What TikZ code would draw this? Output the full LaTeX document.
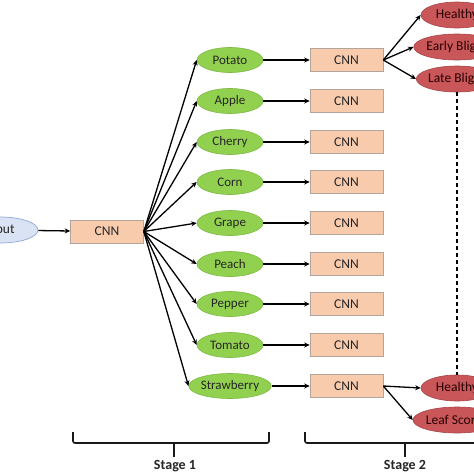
\documentclass[tikz,border=0pt]{standalone}
\usepackage{fontspec}
\setmainfont{Carlito}
\usetikzlibrary{arrows.meta,shapes.geometric}
\definecolor{inblue}{HTML}{DAE3F3}
\definecolor{inborder}{HTML}{8FAADC}
\definecolor{cnnfill}{HTML}{F8CBAD}
\definecolor{cnnborder}{HTML}{B4A59B}
\definecolor{grfill}{HTML}{92D050}
\definecolor{grborder}{HTML}{7DBA45}
\definecolor{rdfill}{HTML}{C9575A}
\definecolor{rdborder}{HTML}{A84446}
\definecolor{txt}{HTML}{262626}
\tikzset{
  inputnode/.style={ellipse,draw=inborder,fill=inblue,line width=0.7pt,minimum width=76,minimum height=26,inner sep=0pt,text=txt,font=\fontsize{13.5}{15}\selectfont},
  cnnbox/.style={rectangle,draw=cnnborder,fill=cnnfill,line width=0.6pt,minimum width=73,minimum height=23,inner sep=0pt,text=txt,font=\fontsize{13.5}{15}\selectfont},
  plant/.style={ellipse,draw=grborder,fill=grfill,line width=0.6pt,minimum width=66,minimum height=25,inner sep=0pt,text=txt,font=\fontsize{13}{15}\selectfont},
  disease/.style={ellipse,draw=rdborder,fill=rdfill,line width=0.6pt,minimum width=72,minimum height=26,inner sep=0pt,text=black!85!red,font=\fontsize{13.5}{15}\selectfont},
  arr/.style={line width=1.3pt,-{Stealth[length=5.5pt,width=5pt]}},
  brace/.style={line width=1.6pt,draw=black!90,rounded corners=2pt},
  stagelbl/.style={font=\bfseries\fontsize{14}{16}\selectfont,text=black!85},
}
\begin{document}
\begin{tikzpicture}[x=1pt,y=-1pt]
\useasboundingbox (0,0) rectangle (474,474);
\begin{scope}
\clip (0,0) rectangle (474,474);
\fill[white] (0,0) rectangle (474,474);
\node[inputnode] (in) at (0,230) {Input};
\node[cnnbox] (c0) at (107,231.5) {CNN};
\draw[arr] (in) -- (c0);
\foreach \n/\t/\y in {p1/Potato/60,p2/Apple/101,p3/Cherry/142,p4/Corn/182,p5/Grape/223,p6/Peach/264,p7/Pepper/304,p8/Tomato/345,p9/Strawberry/386}{
  \node[plant] (\n) at (230,\y) {\t};
  \node[cnnbox] (c\n) at (346.5,\y) {CNN};
  \draw[arr] (\n) -- (c\n);
  \draw[arr] (c0.east) -- (\n.west);
}
\node[disease] (d1) at (457,15) {Healthy};
\node[disease] (d2) at (457,47) {Early Blight};
\node[disease] (d3) at (457,79) {Late Blight};
\node[disease] (d4) at (457,388) {Healthy};
\node[disease] (d5) at (457,420) {Leaf Scorch};
\draw[arr] (cp1.east) -- (d1.west);
\draw[arr] (cp1.east) -- (d2.west);
\draw[arr] (cp1.east) -- (d3.west);
\draw[arr] (cp9.east) -- (d4.west);
\draw[arr] (cp9.east) -- (d5.west);
\draw[line width=1.7pt,dash pattern=on 4pt off 3pt] (d3.south) -- (d4.north);
\coordinate (b1a) at (73,432);
\coordinate (b1b) at (269,432);
\coordinate (b1m) at (174,443);
\coordinate (b1t) at (174,457);
\draw[brace] (b1a) -- (73,443) -- (269,443) -- (b1b);
\draw[line width=1.6pt,draw=black!90] (b1m) -- (b1t);
\node[stagelbl] (s1) at (175,466) {Stage 1};
\coordinate (b2a) at (305,432);
\coordinate (b2b) at (505,432);
\coordinate (b2m) at (405,443);
\coordinate (b2t) at (405,457);
\draw[brace] (b2a) -- (305,443) -- (505,443) -- (b2b);
\draw[line width=1.6pt,draw=black!90] (b2m) -- (b2t);
\node[stagelbl] (s2) at (405,466) {Stage 2};
\end{scope}
\end{tikzpicture}
\end{document}
